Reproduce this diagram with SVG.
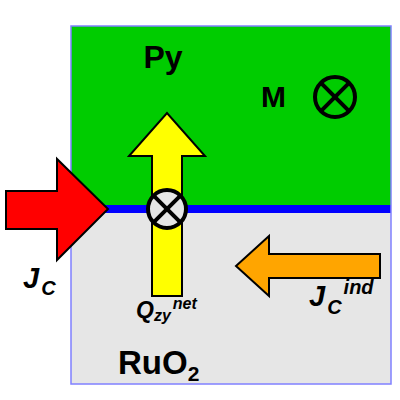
<svg xmlns="http://www.w3.org/2000/svg" width="400" height="400" viewBox="0 0 400 400">
<style>
.lbl{font-family:"Liberation Sans",Arial,sans-serif;font-weight:bold;fill:#000}
.it{font-style:italic}
.arr{stroke:#000;stroke-width:2;stroke-linejoin:miter}
.dot{stroke:#000;stroke-width:4}
</style>
<rect width="400" height="400" fill="#fff"/>
<g id="py-layer">
<rect x="71" y="26" width="320" height="183" fill="#00cc00"/>
<text class="lbl" x="163" y="68" font-size="32" text-anchor="middle">Py</text>
</g>
<g id="ruo2-layer">
<rect x="71" y="209" width="320" height="175" fill="#e6e6e6"/>
<text class="lbl" x="118" y="374" font-size="33">RuO<tspan font-size="21" dy="7">2</tspan></text>
</g>
<g id="interface">
<line x1="71" y1="209" x2="391" y2="209" stroke="#0000ff" stroke-width="8"/>
</g>
<rect x="71" y="26" width="320" height="358" fill="none" stroke="#8080ff" stroke-width="1.5"/>
<g id="magnetization">
<text class="lbl" x="261" y="107" font-size="30">M</text>
<g class="dot" fill="none">
<circle cx="335" cy="97" r="20"/>
<line x1="320.9" y1="82.9" x2="349.1" y2="111.1"/>
<line x1="349.1" y1="82.9" x2="320.9" y2="111.1"/>
</g>
</g>
<g id="connectors">
<g id="jc-arrow">
<polygon class="arr" fill="#ff0000" points="6,191 57,191 57,159 108,209 57,260 57,229 6,229"/>
<text class="lbl it" x="23" y="288" font-size="29">J<tspan font-size="20" dy="7" dx="2">C</tspan></text>
</g>
<g id="q-arrow">
<polygon class="arr" fill="#ffff00" points="152,296 152,156 129,156 167,113 205,156 182,156 182,296"/>
<text class="lbl it" x="136" y="318" font-size="23">Q<tspan font-size="16" dy="3">zy</tspan><tspan font-size="16" dy="-12" dx="2">net</tspan></text>
</g>
<g id="jind-arrow">
<polygon class="arr" fill="#ffa500" points="380,254 269,254 269,236 236,266 269,296 269,278 380,278"/>
<text class="lbl it" x="309" y="306" font-size="29">J<tspan font-size="20" dy="8" dx="2">C</tspan><tspan font-size="20" dy="-20" dx="2">ind</tspan></text>
</g>
</g>
<g id="spin" class="dot">
<circle cx="167" cy="209" r="19" fill="#e6e6e6"/>
<line x1="153.6" y1="195.6" x2="180.4" y2="222.4"/>
<line x1="180.4" y1="195.6" x2="153.6" y2="222.4"/>
</g>
</svg>
